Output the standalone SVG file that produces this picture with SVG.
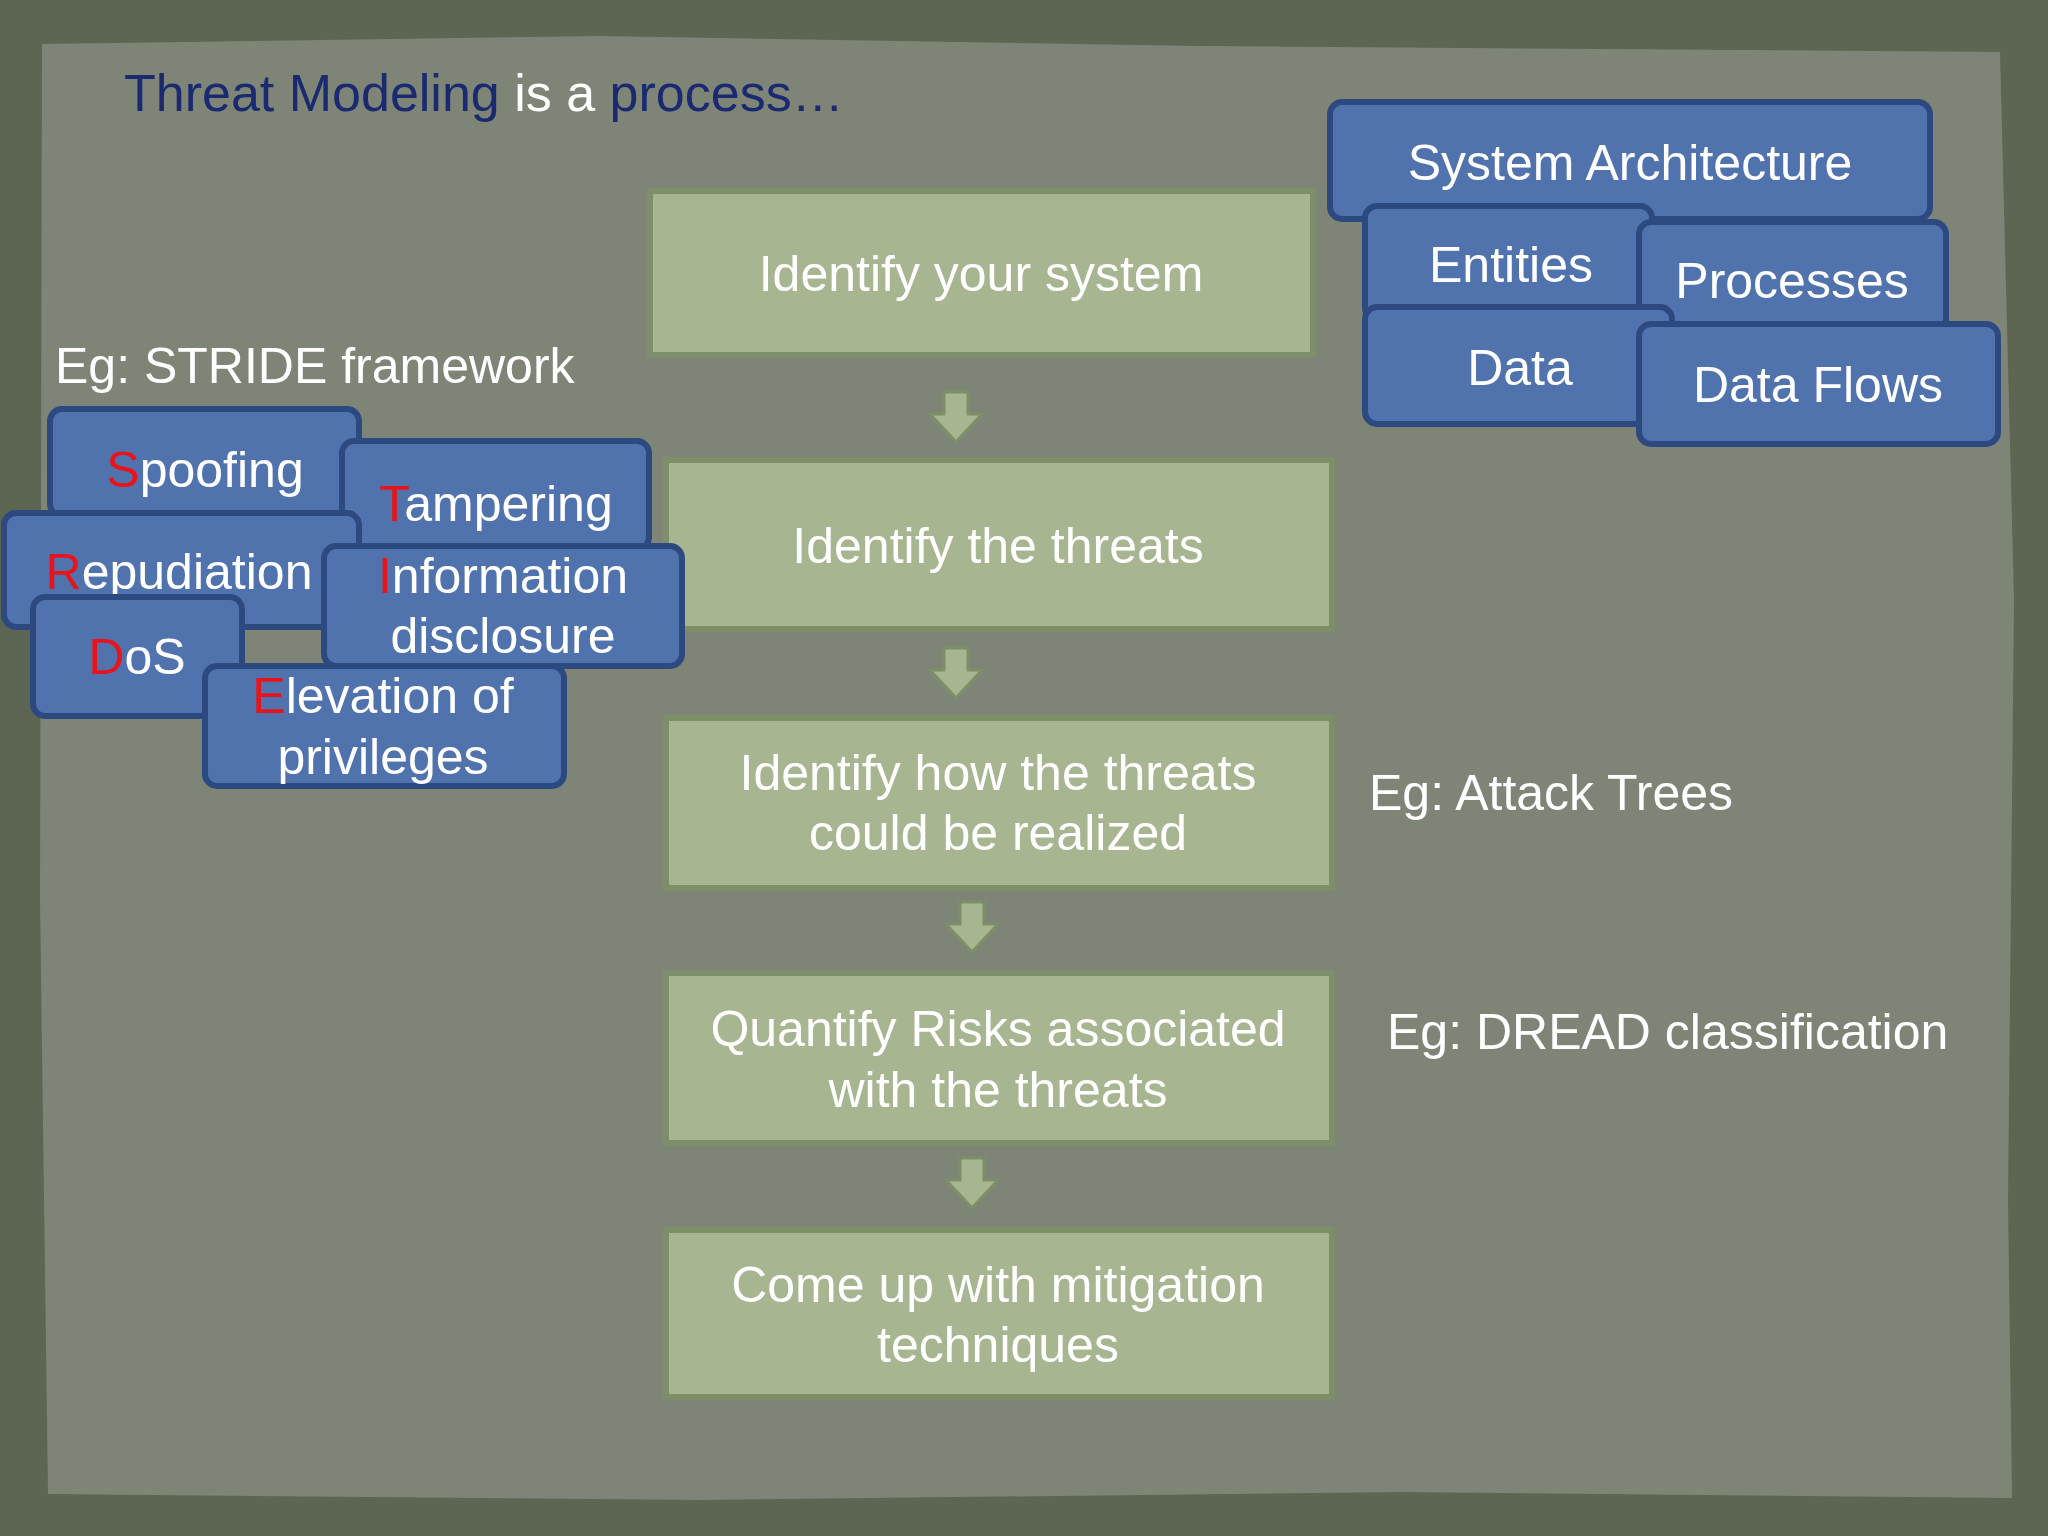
<svg xmlns="http://www.w3.org/2000/svg" width="2048" height="1536" viewBox="0 0 2048 1536">
<style>
text{font-family:"Liberation Sans","DejaVu Sans",sans-serif;fill:#fff;font-size:50px;text-anchor:middle;dominant-baseline:central}
.g{fill:#a7b590;stroke:#7e8f68;stroke-width:6}
.b{fill:#5173ad;stroke:#2c4a80;stroke-width:6}
.r{fill:#e8141c}
.n{fill:#1b2a70}
.ar{fill:#a7b590;stroke:#7e8f68;stroke-width:3}
</style>
<defs>
<path id="arr" d="M-12,-26 H12 V-4 H26 L0,24 L-26,-4 H-12 Z"/>
</defs>
<rect width="2048" height="1536" fill="#5c6653"/>
<path d="M42,44 L600,36 L1200,46 L2000,52 L2014,600 L2008,1200 L2012,1498 L1400,1492 L700,1500 L48,1494 L40,900 Z" fill="#7e8577"/>
<text x="124" y="93" style="text-anchor:start;font-size:52px"><tspan class="n">Threat Modeling</tspan> is a <tspan class="n">process…</tspan></text>
<g id="connectors">
<use href="#arr" class="ar" transform="translate(956,418)"/>
<use href="#arr" class="ar" transform="translate(956,674)"/>
<use href="#arr" class="ar" transform="translate(972,928)"/>
<use href="#arr" class="ar" transform="translate(972,1184)"/>
</g>
<g id="s1"><rect class="g" x="650" y="191" width="663" height="164"/><text x="981" y="274">Identify your system</text></g>
<g id="s2"><rect class="g" x="666" y="460" width="666" height="169"/><text x="998" y="546">Identify the threats</text></g>
<g id="s3"><rect class="g" x="666" y="718" width="666" height="170"/><text x="998" y="773">Identify how the threats</text><text x="998" y="833">could be realized</text></g>
<g id="s4"><rect class="g" x="666" y="973" width="666" height="170"/><text x="998" y="1029">Quantify Risks associated</text><text x="998" y="1090">with the threats</text></g>
<g id="s5"><rect class="g" x="666" y="1230" width="666" height="167"/><text x="998" y="1285">Come up with mitigation</text><text x="998" y="1345">techniques</text></g>
<g id="sysarch"><rect class="b" x="1330" y="102" width="600" height="117" rx="12"/><text x="1630" y="163">System Architecture</text></g>
<g id="entities"><rect class="b" x="1365" y="206" width="287" height="114" rx="12"/><text x="1511" y="265">Entities</text></g>
<g id="processes"><rect class="b" x="1639" y="222" width="307" height="118" rx="12"/><text x="1792" y="281">Processes</text></g>
<g id="data"><rect class="b" x="1365" y="307" width="307" height="117" rx="12"/><text x="1520" y="368">Data</text></g>
<g id="dataflows"><rect class="b" x="1639" y="324" width="359" height="120" rx="12"/><text x="1818" y="385">Data Flows</text></g>
<text x="55" y="366" style="text-anchor:start">Eg: STRIDE framework</text>
<g id="spoofing"><rect class="b" x="50" y="409" width="309" height="107" rx="12"/><text x="205" y="470"><tspan class="r">S</tspan>poofing</text></g>
<g id="tampering"><rect class="b" x="342" y="441" width="307" height="108" rx="12"/><text x="496" y="504"><tspan class="r">T</tspan>ampering</text></g>
<g id="repudiation"><rect class="b" x="4" y="513" width="355" height="114" rx="12"/><text x="179" y="572"><tspan class="r">R</tspan>epudiation</text></g>
<g id="info"><rect class="b" x="324" y="546" width="358" height="120" rx="12"/><text x="503" y="576"><tspan class="r">I</tspan>nformation</text><text x="503" y="636">disclosure</text></g>
<g id="dos"><rect class="b" x="33" y="597" width="209" height="119" rx="12"/><text x="137" y="657"><tspan class="r">D</tspan>oS</text></g>
<g id="elev"><rect class="b" x="205" y="666" width="359" height="120" rx="12"/><text x="383" y="696"><tspan class="r">E</tspan>levation of</text><text x="383" y="757">privileges</text></g>
<text x="1369" y="793" style="text-anchor:start">Eg: Attack Trees</text>
<text x="1387" y="1032" style="text-anchor:start">Eg: DREAD classification</text>
</svg>
